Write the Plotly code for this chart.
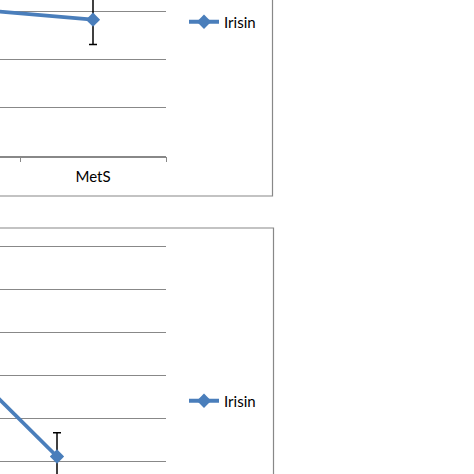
import plotly.graph_objects as go

# top chart (categories, means, error)
top_groups = ["Control", "MetS"]
top_irisin = [3.09, 2.83]
top_err = [0.52, 0.52]

# bottom chart
bottom_groups = ["Control", "MetS"]
bottom_irisin = [5.72, 1.105]
bottom_err = [0.55, 0.55]

W = 474
H = 474
blue = "#4a7ebb"
grey = "#888888"
font = "Lato"


def px_y(p):
    # pixel row -> paper fraction
    return 1 - p / H


def px_x(p):
    return p / W


fig = go.Figure()

fig.add_trace(go.Scatter(
    x=top_groups, y=top_irisin, name="Irisin",
    mode="lines+markers",
    line=dict(color=blue, width=3.8),
    marker=dict(symbol="diamond", size=11, color=blue),
    error_y=dict(type="data", array=top_err, color="black", thickness=1.5, width=4),
    xaxis="x", yaxis="y", legend="legend",
))

fig.add_trace(go.Scatter(
    x=bottom_groups, y=bottom_irisin, name="Irisin",
    mode="lines+markers",
    line=dict(color=blue, width=3.8),
    marker=dict(symbol="diamond", size=11, color=blue),
    error_y=dict(type="data", array=bottom_err, color="black", thickness=1.5, width=4),
    xaxis="x2", yaxis="y2", legend="legend2",
))

# chart frames (partly off the page)
fig.add_shape(type="rect", xref="paper", yref="paper",
              x0=-0.05, x1=px_x(272.5), y0=px_y(196), y1=1.05,
              line=dict(color=grey, width=1.2), layer="below")
fig.add_shape(type="rect", xref="paper", yref="paper",
              x0=-0.05, x1=px_x(273.5), y0=-0.05, y1=px_y(228),
              line=dict(color=grey, width=1.2), layer="below")

# bottom plot: value 6 sits on row 246, 43 px per unit
top2 = 241.7
fig.update_layout(
    width=W, height=H,
    margin=dict(l=0, r=0, t=0, b=0),
    paper_bgcolor="white", plot_bgcolor="white",
    font=dict(family=font, size=15, color="black"),
    showlegend=True,
    xaxis=dict(
        domain=[0, px_x(166)], anchor="y",
        type="category", range=[1 - 93 / 146, 1.5],
        tickson="boundaries", ticks="outside", ticklen=5, tickcolor=grey,
        showline=True, linecolor=grey, linewidth=1.5,
        showgrid=False, tickfont=dict(family=font, size=15),
        ticklabelstandoff=7,
    ),
    yaxis=dict(
        domain=[px_y(155.5), 1], anchor="x",
        range=[0, 155.5 / 48], dtick=1,
        showgrid=True, gridcolor=grey, gridwidth=1.2,
        zeroline=False, showticklabels=False,
    ),
    xaxis2=dict(
        domain=[0, px_x(166)], anchor="y2",
        type="category", range=[1 - 57 / 200, 1 + 109 / 200],
        showline=False, showgrid=False, showticklabels=False,
    ),
    yaxis2=dict(
        domain=[0, px_y(top2)], anchor="x2",
        range=[6 - (H - 246) / 43, 6 + (246 - top2) / 43], dtick=1,
        showgrid=True, gridcolor=grey, gridwidth=1.2,
        zeroline=False, showticklabels=False,
    ),
    legend=dict(x=px_x(184), y=px_y(22), xanchor="left", yanchor="middle",
                bgcolor="rgba(0,0,0,0)", font=dict(family=font, size=15)),
    legend2=dict(x=px_x(184), y=px_y(401), xanchor="left", yanchor="middle",
                 bgcolor="rgba(0,0,0,0)", font=dict(family=font, size=15)),
)

# drop the browser's default 8px body margin
fig.write_html("out.html",
               config={"displayModeBar": False},
               post_script="document.body.style.margin='0';document.body.style.overflow='hidden';")
